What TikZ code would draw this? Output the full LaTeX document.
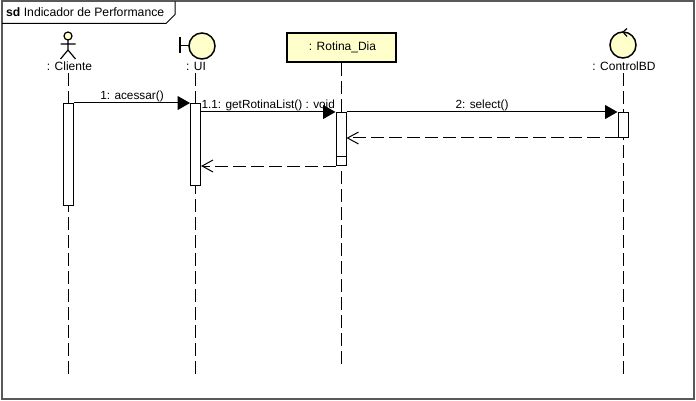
\documentclass[tikz,border=0pt]{standalone}
\usepackage{fontspec}
\setmainfont{Liberation Sans}
\usetikzlibrary{positioning,arrows.meta}
\definecolor{umlyellow}{HTML}{FFFFCC}

\begin{document}
\begin{tikzpicture}[
    x=1pt, y=-1pt,
    head/.style={inner sep=0pt, minimum height=13pt, font=\fontsize{12}{13}\selectfont},
    label/.style={inner sep=0pt, font=\fontsize{11.8}{13}\selectfont},
    bar/.style={rectangle, draw=black, fill=white, line width=1pt, inner sep=0pt, minimum width=10pt},
    lifeline/.style={line width=1pt, dash pattern=on 13pt off 5pt},
    msg/.style={-{Triangle[length=12.5pt,width=14pt]}, line width=1pt},
    reply/.style={-{Straight Barb[length=11pt,width=12pt]}, line width=1pt, dash pattern=on 13pt off 5pt},
    icon/.style={draw=black, fill=umlyellow, line width=1.5pt}
]
\useasboundingbox (0,0) rectangle (696,401);

% frame
\draw[line width=2pt, black!65] (1.5,1.5) rectangle (694,399);
\draw[line width=1pt] (2,23.5) -- (166,23.5) -- (175,14.5) -- (175,1.5);
\node[inner sep=0pt, font=\fontsize{12.2}{13}\selectfont, anchor=west] (title) at (6,12) {\textbf{sd} Indicador de Performance};

% heads
\node[head] (cliente) at (68,66.5) {\hspace*{3pt}\raisebox{-0.7pt}{: Cliente}};
\node[head] (ui) at (195,66.5) {\hspace*{2pt}\raisebox{-0.7pt}{: UI}};
\node[head] (bd) at (623,66.5) {\hspace*{2pt}\raisebox{-0.7pt}{: ControlBD}};
\node[rectangle, draw=black, fill=umlyellow, line width=2pt, minimum width=109pt, minimum height=29pt, inner sep=0pt,
    font=\fontsize{12}{13}\selectfont] (rotina) at (341,47.5) {\hspace*{3pt}: Rotina\_Dia};

% actor
\draw[line width=1.2pt, fill=umlyellow] (68,36) circle (4);
\draw[line width=1.2pt] (68,40) -- (68,50) (60.5,44) -- (75.5,44) (60.5,59) -- (68,50) -- (75.5,59);

% boundary
\draw[line width=1.5pt] (180,37.5) -- (180,53.5) (180,45.5) -- (189,45.5);
\node[icon, circle, minimum size=26pt, inner sep=0pt] (uicirc) at (202,46) {};

% control
\node[icon, circle, minimum size=26pt, inner sep=0pt] (bdcirc) at (623,45) {};
\draw[line width=1.2pt] (627,28.5) -- (623,32) -- (627,36.5);

% lifelines
\coordinate (clienteend) at (68,374);
\coordinate (uiend) at (195,374);
\coordinate (rotinaend) at (341,364);
\coordinate (bdend) at (623,374);
\draw[lifeline] (cliente.south) -- (clienteend);
\draw[lifeline] (ui.south) -- (uiend);
\draw[lifeline] (rotina.south) -- (rotinaend);
\draw[lifeline] (bd.south) -- (bdend);

% activations
\node[bar, minimum height=102pt] (actcliente) at (68.5,154.5) {};
\node[bar, minimum height=82pt] (actui) at (195.5,144.5) {};
\node[bar, minimum height=53pt] (actrotina) at (341,139) {};
\node[bar, minimum height=25pt] (actbd) at (623,125) {};
\draw[line width=1pt] (actrotina.west |- 0,157) -- (actrotina.east |- 0,157);

% messages
\draw[msg] (actcliente.north east) -- (actui.north west) node[label, midway, above=0.5pt] (m1) {1: acessar()};
\draw[msg] (actui.east |- actrotina.north) -- (actrotina.north west) node[label, midway, above=0.5pt] (m2) {1.1: getRotinaList() : void};
\draw[msg] (actrotina.north east) -- (actbd.north west) node[label, midway, above=0.5pt] (m3) {2: select()};
\draw[reply] (actbd.south west) -- (actrotina.east |- actbd.south);
\draw[reply] (actrotina.south west) -- (actui.east |- actrotina.south);

\end{tikzpicture}
\end{document}
